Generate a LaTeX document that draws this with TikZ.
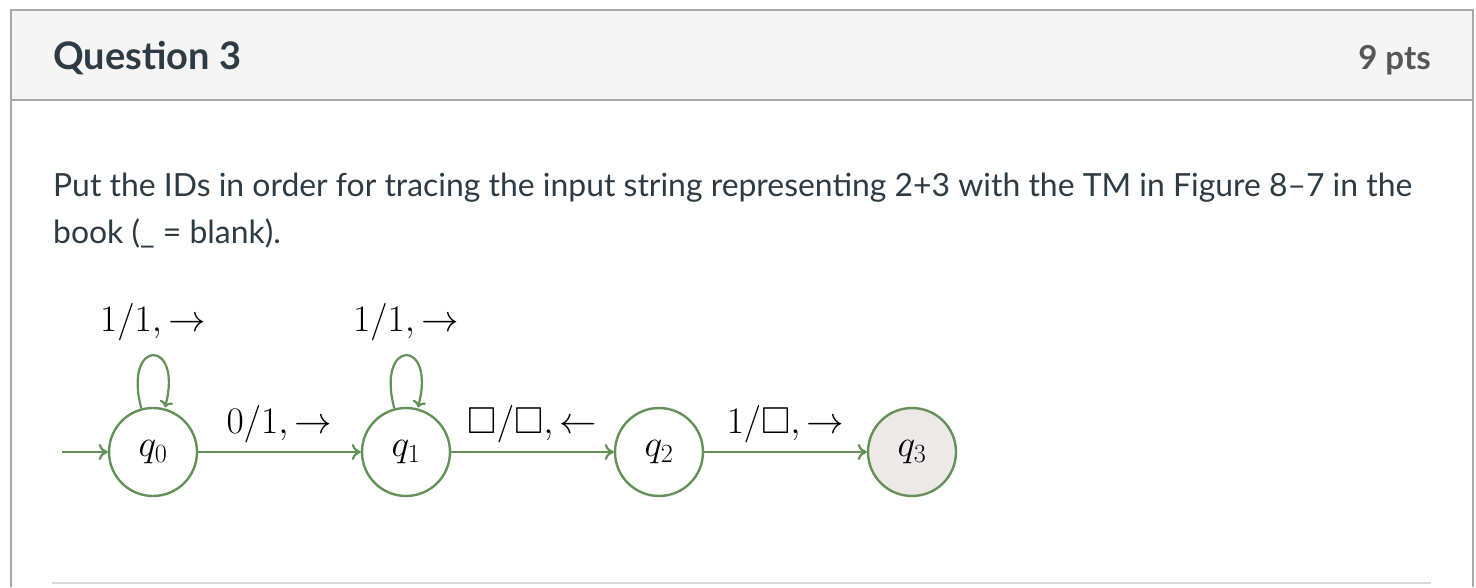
\RequirePackage{fix-cm}
\documentclass[tikz,border=0pt]{standalone}
\usepackage{amsmath}
\usepackage{amssymb}
\usepackage{fontspec}
\usepackage{tikz}
\usepackage{xcolor}
\usetikzlibrary{arrows.meta}

\newfontfamily\lato{Lato}
\newcommand{\titlefont}{\lato\bfseries\fontsize{38}{42}\selectfont}
\newcommand{\ptsfont}{\lato\bfseries\fontsize{33}{38}\selectfont}
\newcommand{\bodyfont}{\lato\fontsize{31.9}{38}\selectfont}
\newcommand{\tmfont}{\fontsize{37.5}{44}\selectfont}

\definecolor{framegray}{RGB}{168,168,168}
\definecolor{headbg}{RGB}{245,245,245}
\definecolor{canvastext}{RGB}{45,59,69}
\definecolor{ptsgray}{RGB}{86,86,86}
\definecolor{sepgray}{RGB}{217,217,217}
\definecolor{tmgreen}{RGB}{98,146,88}
\definecolor{finalfill}{RGB}{236,233,232}

\begin{document}
\begin{tikzpicture}[x=1pt, y=1pt,
    frame/.style={draw=framegray, line width=1.8pt},
    tmstate/.style={circle, draw=tmgreen, line width=2.4pt, minimum size=88pt, inner sep=0pt, font=\tmfont},
    trans/.style={-{To[length=9pt,width=16pt]}, draw=tmgreen, line width=2.2pt},
    tlabel/.style={font=\tmfont, text=black, above=5pt},
    looplabel/.style={font=\tmfont, text=black, above=10pt}]
\useasboundingbox (0,0) rectangle (1476,587);
\fill[white] (0,0) rectangle (1476,587);

% card header
\fill[headbg] (11,577) rectangle (1473,487);
\draw[frame] (11,0) -- (11,577) -- (1473,577) -- (1473,0);
\draw[frame] (11,487) -- (1473,487);
\node[anchor=base west, inner sep=0pt, font=\titlefont, text=canvastext] (title) at (53,517) {Question 3};
\node[anchor=base east, inner sep=0pt, font=\ptsfont, text=ptsgray] (pts) at (1431,517) {9 pts};

% question text
\node[anchor=base west, inner sep=0pt, font=\bodyfont, text=canvastext] (line1) at (53,390)
  {Put the IDs in order for tracing the input string representing 2+3 with the TM in Figure 8–7 in the};
\node[anchor=base west, inner sep=0pt, font=\bodyfont, text=canvastext] (line2) at (53,343)
  {book (\_ = blank).};

% the machine
\coordinate (start) at (62,135);
\node[tmstate] (q0) at (153,135) {$q_0$};
\node[tmstate] (q1) at (406,135) {$q_1$};
\node[tmstate] (q2) at (659,135) {$q_2$};
\node[tmstate, fill=finalfill] (q3) at (912,135) {$q_3$};

\draw[trans] (start) -- (q0);
\path (q0) edge[trans, loop above] node[looplabel] {$1/1,\rightarrow$} ();
\path (q1) edge[trans, loop above] node[looplabel] {$1/1,\rightarrow$} ();
\draw[trans] (q0) -- node[tlabel] {$0/1,\rightarrow$} (q1);
\draw[trans] (q1) -- node[tlabel] {$\square/\square,\leftarrow$} (q2);
\draw[trans] (q2) -- node[tlabel] {$1/\square,\rightarrow$} (q3);

% bottom rule
\draw[sepgray, line width=2pt] (52,4) -- (1431,4);
\end{tikzpicture}
\end{document}
